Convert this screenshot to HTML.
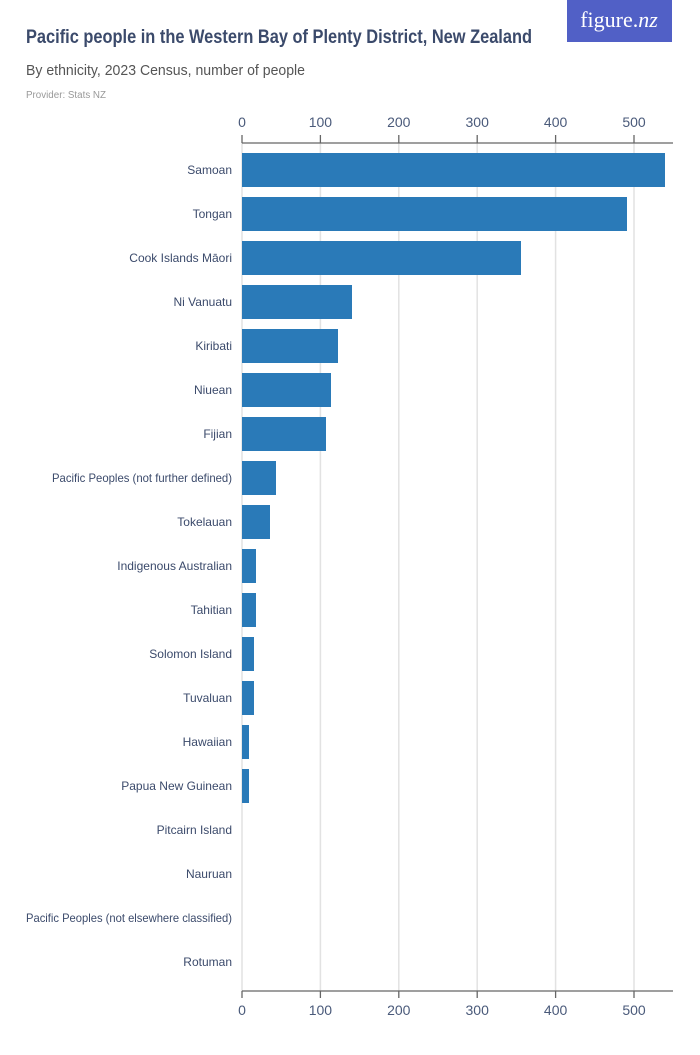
<!DOCTYPE html>
<html><head><meta charset="utf-8"><style>
body{margin:0;background:#fff;width:700px;height:1050px;overflow:hidden;font-family:"Liberation Sans",sans-serif;}
</style></head><body>
<svg width="700" height="1050" xmlns="http://www.w3.org/2000/svg" font-family="Liberation Sans, sans-serif">
<rect x="567" y="0" width="105" height="42" fill="#5160c6"/>
<text x="619" y="27" text-anchor="middle" font-family="Liberation Serif, serif" font-size="22" fill="#fff">figure.<tspan font-style="italic">nz</tspan></text>
<text x="26" y="43" font-size="19" font-weight="bold" fill="#3b4a6b" textLength="506" lengthAdjust="spacingAndGlyphs">Pacific people in the Western Bay of Plenty District, New Zealand</text>
<text x="26" y="75" font-size="15" fill="#555" textLength="279" lengthAdjust="spacingAndGlyphs">By ethnicity, 2023 Census, number of people</text>
<text x="26" y="98" font-size="10" fill="#999" textLength="80" lengthAdjust="spacingAndGlyphs">Provider: Stats NZ</text>
<g stroke="#e2e2e2" stroke-width="1.5">
<line x1="320.4" y1="143" x2="320.4" y2="991"/><line x1="398.8" y1="143" x2="398.8" y2="991"/><line x1="477.2" y1="143" x2="477.2" y2="991"/><line x1="555.6" y1="143" x2="555.6" y2="991"/><line x1="634" y1="143" x2="634" y2="991"/><line x1="242" y1="143" x2="242" y2="991"/>
</g>
<g fill="#2a7ab8">
<rect x="242" y="153" width="423" height="34"/>
<rect x="242" y="197" width="385" height="34"/>
<rect x="242" y="241" width="279" height="34"/>
<rect x="242" y="285" width="110" height="34"/>
<rect x="242" y="329" width="96" height="34"/>
<rect x="242" y="373" width="89" height="34"/>
<rect x="242" y="417" width="84" height="34"/>
<rect x="242" y="461" width="34" height="34"/>
<rect x="242" y="505" width="28" height="34"/>
<rect x="242" y="549" width="14" height="34"/>
<rect x="242" y="593" width="14" height="34"/>
<rect x="242" y="637" width="12" height="34"/>
<rect x="242" y="681" width="12" height="34"/>
<rect x="242" y="725" width="7" height="34"/>
<rect x="242" y="769" width="7" height="34"/>
</g>
<g stroke="#666" stroke-width="1.3">
<line x1="242" y1="143" x2="673" y2="143"/><line x1="242" y1="991" x2="673" y2="991"/>
<line x1="242" y1="135" x2="242" y2="143"/><line x1="320.4" y1="135" x2="320.4" y2="143"/><line x1="398.8" y1="135" x2="398.8" y2="143"/><line x1="477.2" y1="135" x2="477.2" y2="143"/><line x1="555.6" y1="135" x2="555.6" y2="143"/><line x1="634" y1="135" x2="634" y2="143"/>
<line x1="242" y1="991" x2="242" y2="998"/><line x1="320.4" y1="991" x2="320.4" y2="998"/><line x1="398.8" y1="991" x2="398.8" y2="998"/><line x1="477.2" y1="991" x2="477.2" y2="998"/><line x1="555.6" y1="991" x2="555.6" y2="998"/><line x1="634" y1="991" x2="634" y2="998"/>
</g>
<g font-size="14" fill="#4a5a7a" text-anchor="middle">
<text x="242" y="127">0</text><text x="320.4" y="127">100</text><text x="398.8" y="127">200</text><text x="477.2" y="127">300</text><text x="555.6" y="127">400</text><text x="634" y="127">500</text>
<text x="242" y="1015">0</text><text x="320.4" y="1015">100</text><text x="398.8" y="1015">200</text><text x="477.2" y="1015">300</text><text x="555.6" y="1015">400</text><text x="634" y="1015">500</text>
</g>
<g font-size="12" fill="#3b4a6b" text-anchor="end">
<text x="232" y="174">Samoan</text>
<text x="232" y="218">Tongan</text>
<text x="232" y="262">Cook Islands Māori</text>
<text x="232" y="306">Ni Vanuatu</text>
<text x="232" y="350">Kiribati</text>
<text x="232" y="394">Niuean</text>
<text x="232" y="438">Fijian</text>
<text x="232" y="482" textLength="180" lengthAdjust="spacingAndGlyphs">Pacific Peoples (not further defined)</text>
<text x="232" y="526">Tokelauan</text>
<text x="232" y="570">Indigenous Australian</text>
<text x="232" y="614">Tahitian</text>
<text x="232" y="658">Solomon Island</text>
<text x="232" y="702">Tuvaluan</text>
<text x="232" y="746">Hawaiian</text>
<text x="232" y="790">Papua New Guinean</text>
<text x="232" y="834">Pitcairn Island</text>
<text x="232" y="878">Nauruan</text>
<text x="232" y="922" textLength="206" lengthAdjust="spacingAndGlyphs">Pacific Peoples (not elsewhere classified)</text>
<text x="232" y="966">Rotuman</text>
</g>
</svg>
</body></html>
